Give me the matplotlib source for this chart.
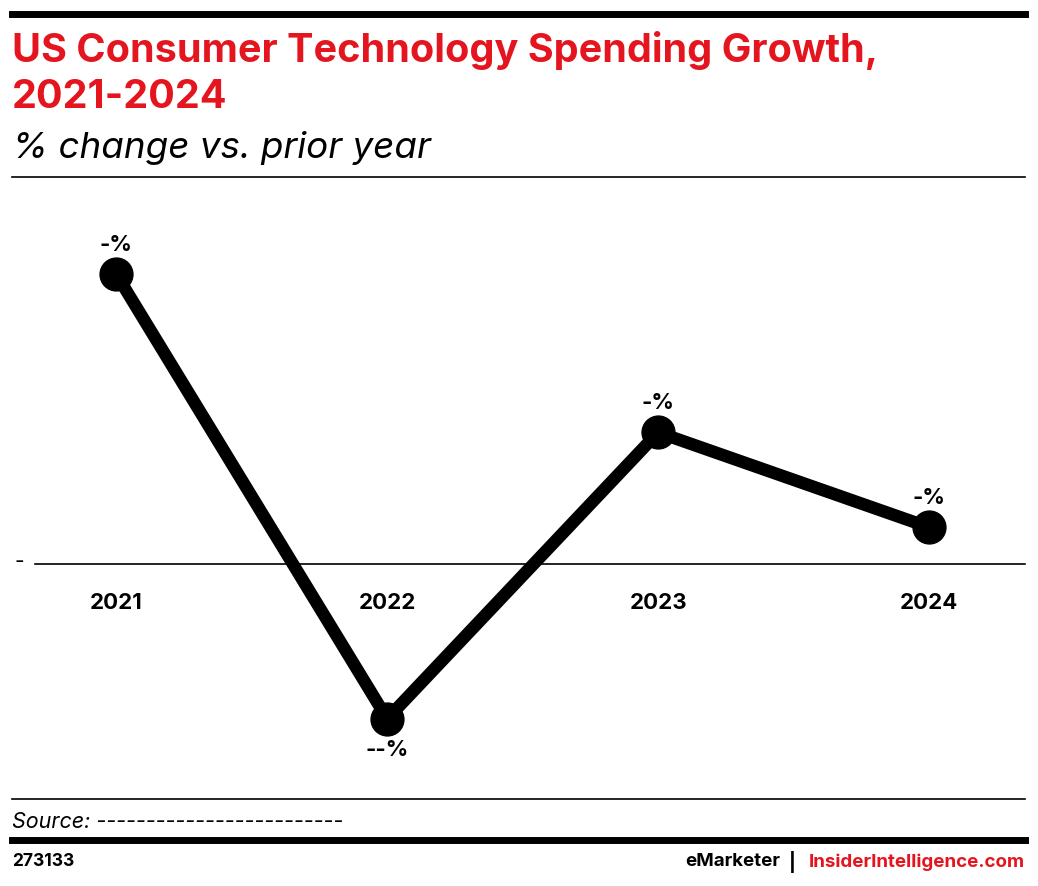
import matplotlib
matplotlib.use("Agg")
import matplotlib.pyplot as plt
from matplotlib.lines import Line2D

years = ["2021", "2022", "2023", "2024"]
values = [8.7, -4.65, 3.95, 1.1]
labels = ["-%", "--%", "-%", "-%"]

W, H = 1038, 887
fig = plt.figure(figsize=(W/100, H/100), dpi=100)
FONT = "Inter"

def fy(py): return 1 - py / H
def fx(px): return px / W

ax = fig.add_axes([fx(35), fy(790), fx(1025) - fx(35), fy(190) - fy(790)])
x = list(range(len(years)))
ax.plot(x, values, color="black", lw=9, solid_capstyle="round", zorder=2)
ax.scatter(x, values, s=560, color="black", zorder=3)
for xi, v, lab in zip(x, values, labels):
    if v >= 0:
        ax.text(xi, v + 0.6, lab, ha="center", va="bottom", fontsize=16, fontweight="bold", family=FONT)
    else:
        ax.text(xi, v - 0.6, lab, ha="center", va="top", fontsize=16, fontweight="bold", family=FONT)
ax.set_xlim(-0.3, 3.354)
ax.set_ylim(-6.76, 11.26)
for s in ax.spines.values():
    s.set_visible(False)
ax.spines["bottom"].set_visible(True)
ax.spines["bottom"].set_position(("data", 0))
ax.spines["bottom"].set_linewidth(1.2)
ax.set_xticks(x)
ax.set_xticklabels(years, fontsize=16, fontweight="bold", family=FONT)
ax.tick_params(axis="x", length=0, pad=20)
ax.set_yticks([])
ax.patch.set_alpha(0)
fig.text(fx(14), fy(562), "-", fontsize=15, va="center", family=FONT)

def hline(py, lw):
    fig.add_artist(Line2D([fx(12), fx(1025)], [fy(py), fy(py)], color="black", lw=lw, transform=fig.transFigure))
hline(15, 5)
hline(178, 1.2)
hline(800, 1.2)
hline(841, 5)

red = "#e4151f"
fig.text(fx(12), fy(50), "US Consumer Technology Spending Growth,", color=red, fontsize=28.5, fontweight="bold", va="center", family=FONT)
fig.text(fx(12), fy(97), "2021-2024", color=red, fontsize=28.5, fontweight="bold", va="center", family=FONT)
fig.text(fx(12), fy(148), "% change vs. prior year", fontsize=26.5, style="italic", va="center", family=FONT)
fig.text(fx(12), fy(822), "Source: -------------------------", fontsize=15.5, style="italic", va="center", family=FONT)
fig.text(fx(12), fy(862), "273133", fontsize=12.5, fontweight="bold", va="center", family=FONT)
fig.text(fx(780), fy(862), "eMarketer", fontsize=13.5, fontweight="bold", va="center", ha="right", family=FONT)
fig.text(fx(792), fy(862), "|", fontsize=13.5, fontweight="bold", va="center", ha="center", family=FONT)
fig.text(fx(1025), fy(862), "InsiderIntelligence.com", fontsize=13.5, fontweight="bold", va="center", ha="right", color=red, family=FONT)

fig.savefig("out.png", dpi=100)
